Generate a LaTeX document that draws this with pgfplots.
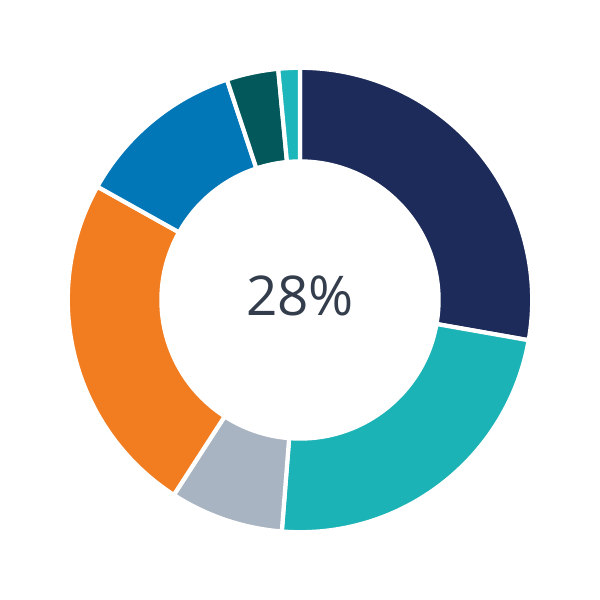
\documentclass[border=0pt]{standalone}
\usepackage{pgfplots}
\usepackage{pgfplotstable}
\pgfplotsset{compat=1.18}
\usepackage{fontspec}
\setmainfont{Open Sans}

\definecolor{navy}{HTML}{1C2B5A}
\definecolor{teal}{HTML}{1BB3B5}
\definecolor{slate}{HTML}{A9B4C2}
\definecolor{orange}{HTML}{F27D20}
\definecolor{blue}{HTML}{0177B8}
\definecolor{darkteal}{HTML}{02585A}
\definecolor{lightteal}{HTML}{1DB6BA}
\definecolor{textgray}{HTML}{333D4B}

% shares in percent, clockwise from 12 o'clock
\pgfplotstableread{
share col
27.8  navy
23.5  teal
7.9   slate
24.0  orange
11.8  blue
3.6   darkteal
1.5   lightteal
}\donutdata

\begin{document}
\begin{tikzpicture}
\begin{axis}[
    hide axis,
    disabledatascaling,
    clip=false,
    x=1cm, y=1cm,
    xmin=-5, xmax=5,
    ymin=-5, ymax=5,
]
\pgfplotsextra{
    % keep the full square canvas
    \path (axis cs:-5,-5) rectangle (axis cs:5,5);
    \pgfplotstablegetrowsof{\donutdata}
    \pgfmathtruncatemacro\last{\pgfplotsretval-1}
    \def\ro{3.87}
    \def\ri{2.31}
    % total, so the ring closes
    \gdef\total{0}
    \foreach \i in {0,...,\last}{
        \pgfplotstablegetelem{\i}{share}\of{\donutdata}
        \pgfmathsetmacro\t{\total+\pgfplotsretval}
        \xdef\total{\t}
    }
    \gdef\acc{90}
    \foreach \i in {0,...,\last}{
        \pgfplotstablegetelem{\i}{share}\of{\donutdata}
        \let\v\pgfplotsretval
        \pgfplotstablegetelem{\i}{col}\of{\donutdata}
        \let\c\pgfplotsretval
        \pgfmathsetmacro\a{\acc}
        \pgfmathsetmacro\b{\acc-360*\v/\total}
        \pgfmathsetmacro\xa{\ro*cos(\a)}
        \pgfmathsetmacro\ya{\ro*sin(\a)}
        \pgfmathsetmacro\xb{\ri*cos(\b)}
        \pgfmathsetmacro\yb{\ri*sin(\b)}
        \filldraw[fill=\c, draw=white, line width=2pt, line join=miter]
            (axis cs:\xa,\ya) arc[start angle=\a, end angle=\b, radius=\ro]
            -- (axis cs:\xb,\yb)
            arc[start angle=\b, end angle=\a, radius=\ri] -- cycle;
        \xdef\acc{\b}
    }
    \node[text=textgray, font=\fontsize{26}{30}\selectfont, yshift=2pt]
        at (axis cs:0,0) {28\%};
}
\end{axis}
\end{tikzpicture}
\end{document}
